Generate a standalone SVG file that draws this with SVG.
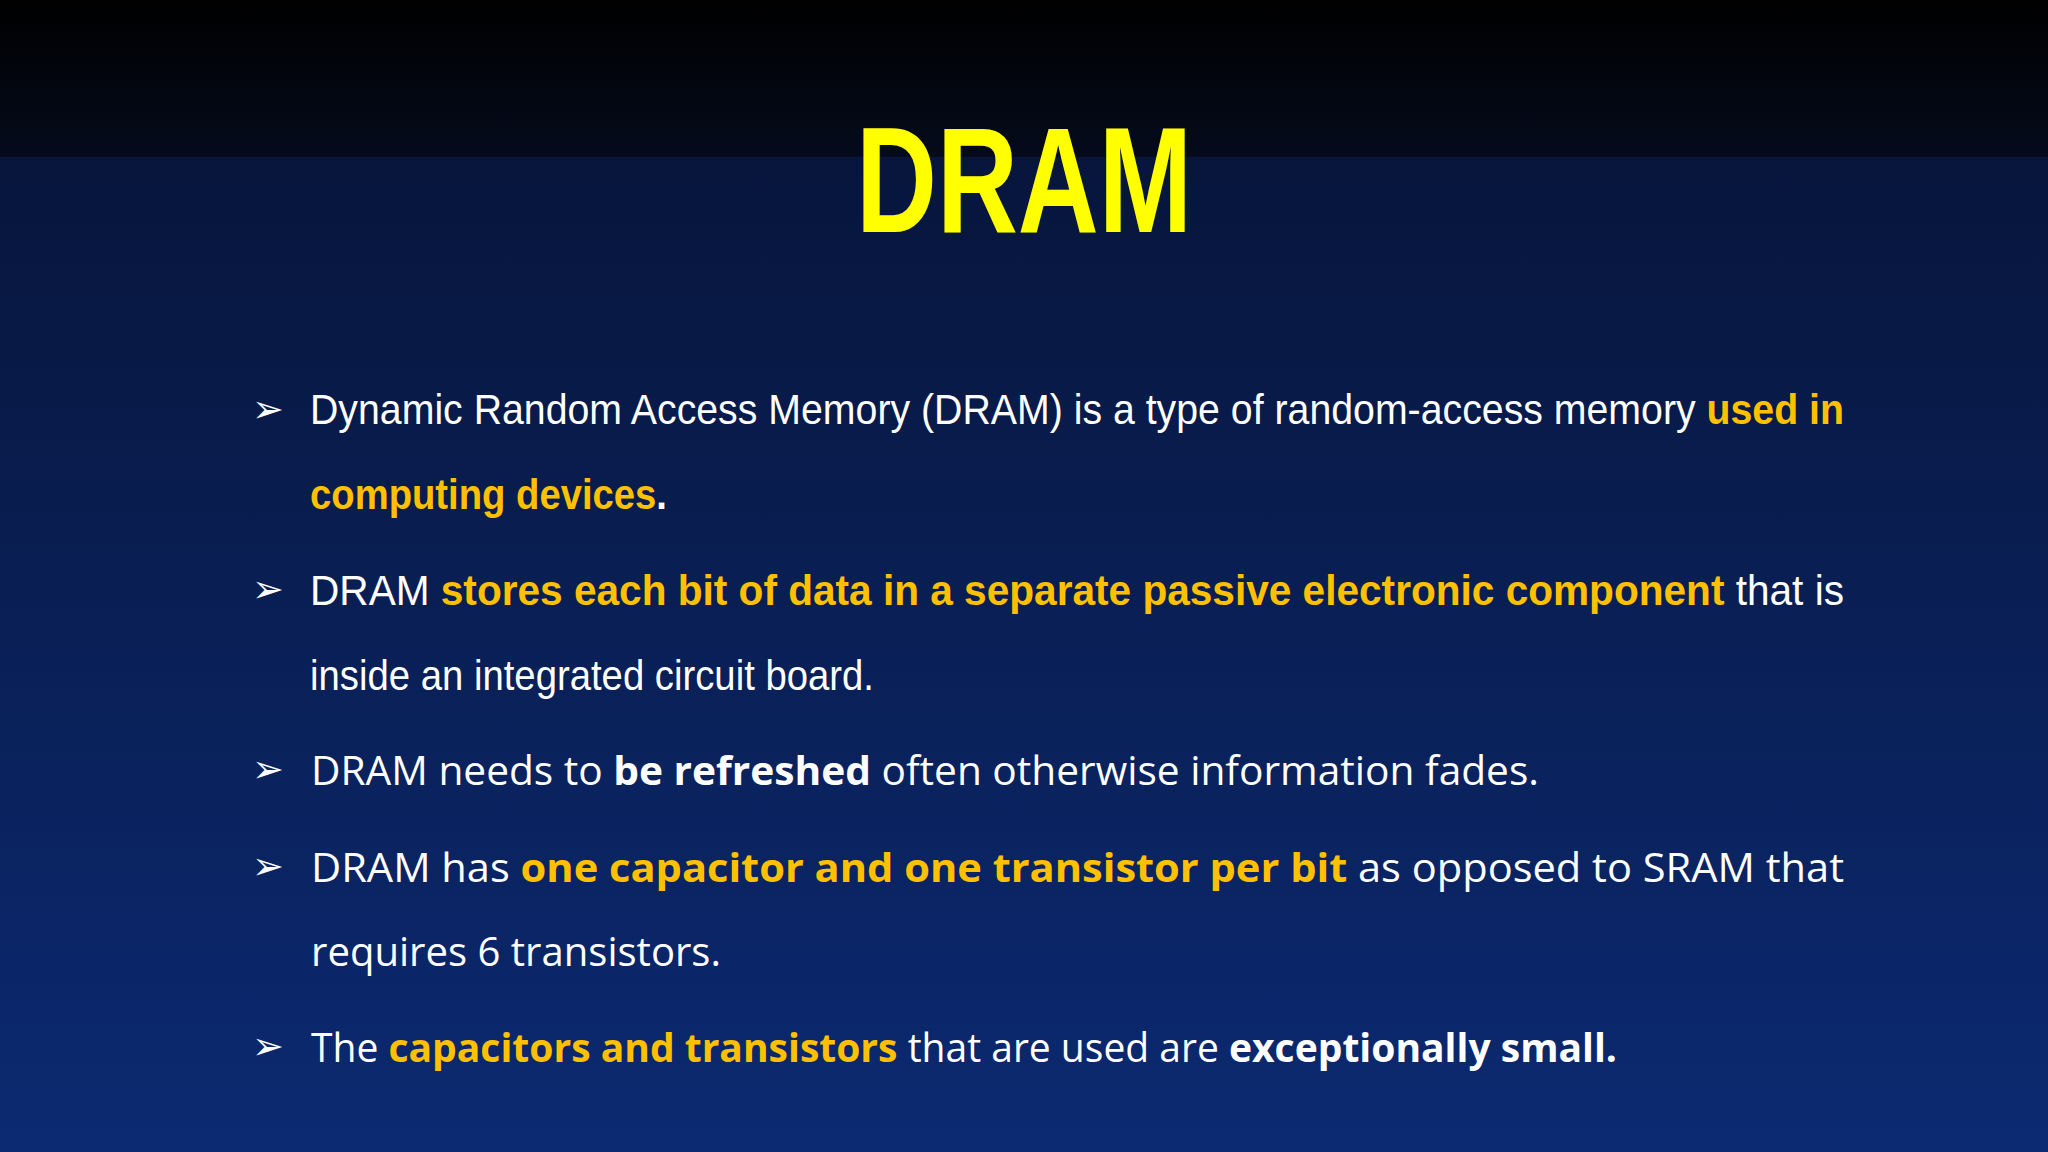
<svg xmlns="http://www.w3.org/2000/svg" width="2048" height="1152" viewBox="0 0 2048 1152">
<defs>
<linearGradient id="bg" x1="0" y1="0" x2="0" y2="1">
<stop offset="0" stop-color="#061233"/>
<stop offset="1" stop-color="#0c2a72"/>
</linearGradient>
<linearGradient id="top" x1="0" y1="0" x2="0" y2="1">
<stop offset="0" stop-color="#000000"/>
<stop offset="1" stop-color="#050b1c"/>
</linearGradient>
</defs>
<style>
.n{font-family:"Liberation Sans Narrow","Liberation Sans",sans-serif;font-size:42px;fill:#fff}
.c{font-family:"Open Sans","Liberation Sans",sans-serif;font-size:40px;fill:#fff}
.h{fill:#ffc000;font-weight:bold}
.b{font-weight:bold}
.ar{font-family:"DejaVu Sans",sans-serif;font-size:38px;fill:#fff}
</style>
<rect width="2048" height="1152" fill="url(#bg)"/>
<rect width="2048" height="157" fill="url(#top)"/>
<g id="title"><text x="1024" y="232" text-anchor="middle" font-family="Liberation Sans Narrow, Liberation Sans, sans-serif" font-weight="bold" font-size="150" fill="#ffff00" textLength="336" lengthAdjust="spacingAndGlyphs">DRAM</text></g>
<g id="bullets">
<text class="ar" x="252" y="422">➢</text>
<text class="ar" x="252" y="602">➢</text>
<text class="ar" x="252" y="782">➢</text>
<text class="ar" x="252" y="879">➢</text>
<text class="ar" x="252" y="1059">➢</text>
<text class="n" x="310" y="424" textLength="1534" lengthAdjust="spacingAndGlyphs">Dynamic Random Access Memory (DRAM) is a type of random-access memory <tspan class="h">used in</tspan></text>
<text class="n" x="310" y="509" textLength="357" lengthAdjust="spacingAndGlyphs"><tspan class="h">computing devices</tspan><tspan class="b">.</tspan></text>
<text class="n" x="310" y="605" textLength="1534" lengthAdjust="spacingAndGlyphs">DRAM <tspan class="h">stores each bit of data in a separate passive electronic component</tspan> that is</text>
<text class="n" x="310" y="690" textLength="564" lengthAdjust="spacingAndGlyphs">inside an integrated circuit board.</text>
<text class="c" x="311" y="785" textLength="1228" lengthAdjust="spacingAndGlyphs">DRAM needs to <tspan class="b">be refreshed</tspan> often otherwise information fades.</text>
<text class="c" x="311" y="882" textLength="1533" lengthAdjust="spacingAndGlyphs">DRAM has <tspan class="h">one capacitor and one transistor per bit</tspan> as opposed to SRAM that</text>
<text class="c" x="311" y="966" textLength="410" lengthAdjust="spacingAndGlyphs">requires 6 transistors.</text>
<text class="c" x="311" y="1062" textLength="1306" lengthAdjust="spacingAndGlyphs">The <tspan class="h">capacitors and transistors</tspan> that are used are <tspan class="b">exceptionally small.</tspan></text>
</g>
</svg>
